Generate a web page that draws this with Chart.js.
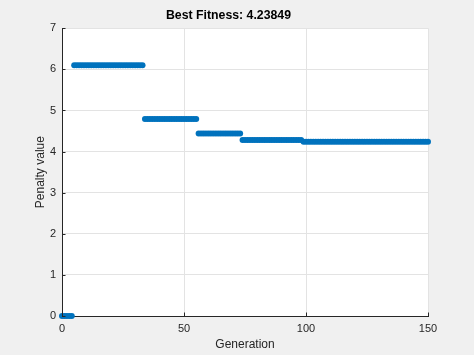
<!DOCTYPE html>
<html>
<head>
<meta charset="utf-8">
<script src="https://cdn.jsdelivr.net/npm/chart.js@4"></script>
<style>
html,body{margin:0;padding:0;background:#f0f0f0;}
#wrap{width:474px;height:355px;}
</style>
</head>
<body>
<div id="wrap"><canvas id="c" width="474" height="355"></canvas></div>
<script>
const chartTitle = "Best Fitness: 4.23849";
const xLabel = "Generation";
const yLabel = "Penalty value";
const xTicks = [0, 50, 100, 150];
const yTicks = [0, 1, 2, 3, 4, 5, 6, 7];
// best penalty per generation, generations 0..150
const penalty = [
  0, 0, 0, 0, 0,
  6.10, 6.10, 6.10, 6.10, 6.10, 6.10, 6.10, 6.10, 6.10, 6.10,
  6.10, 6.10, 6.10, 6.10, 6.10, 6.10, 6.10, 6.10, 6.10, 6.10,
  6.10, 6.10, 6.10, 6.10, 6.10, 6.10, 6.10, 6.10, 6.10,
  4.79, 4.79, 4.79, 4.79, 4.79, 4.79, 4.79, 4.79, 4.79, 4.79, 4.79,
  4.79, 4.79, 4.79, 4.79, 4.79, 4.79, 4.79, 4.79, 4.79, 4.79, 4.79,
  4.44, 4.44, 4.44, 4.44, 4.44, 4.44, 4.44, 4.44, 4.44,
  4.44, 4.44, 4.44, 4.44, 4.44, 4.44, 4.44, 4.44, 4.44,
  4.28, 4.28, 4.28, 4.28, 4.28, 4.28, 4.28, 4.28, 4.28, 4.28, 4.28, 4.28, 4.28,
  4.28, 4.28, 4.28, 4.28, 4.28, 4.28, 4.28, 4.28, 4.28, 4.28, 4.28, 4.28,
  4.23849, 4.23849, 4.23849, 4.23849, 4.23849, 4.23849, 4.23849, 4.23849, 4.23849, 4.23849,
  4.23849, 4.23849, 4.23849, 4.23849, 4.23849, 4.23849, 4.23849, 4.23849, 4.23849, 4.23849,
  4.23849, 4.23849, 4.23849, 4.23849, 4.23849, 4.23849, 4.23849, 4.23849, 4.23849, 4.23849,
  4.23849, 4.23849, 4.23849, 4.23849, 4.23849, 4.23849, 4.23849, 4.23849, 4.23849, 4.23849,
  4.23849, 4.23849, 4.23849, 4.23849, 4.23849, 4.23849, 4.23849, 4.23849, 4.23849, 4.23849,
  4.23849, 4.23849
];
const generations = penalty.map((_, i) => i);

const FONT = "'Liberation Sans', Arial, Helvetica, sans-serif";
const AXIS = '#262626';

const bgPlugin = {
  id: 'bg',
  beforeDraw(chart) {
    const {ctx, chartArea: a} = chart;
    ctx.save();
    ctx.fillStyle = '#f0f0f0';
    ctx.fillRect(0, 0, chart.width, chart.height);
    ctx.fillStyle = '#ffffff';
    ctx.fillRect(a.left, a.top, a.right - a.left, a.bottom - a.top);
    ctx.restore();
  },
  afterDatasetsDraw(chart) {
    const {ctx, chartArea: a, scales} = chart;
    ctx.save();
    ctx.strokeStyle = AXIS;
    ctx.lineWidth = 1;
    ctx.beginPath();
    xTicks.forEach(v => {
      const x = Math.round(scales.x.getPixelForValue(v)) + 0.5;
      ctx.moveTo(x, a.bottom); ctx.lineTo(x, a.bottom - 3.5);
    });
    yTicks.forEach(v => {
      const y = Math.round(scales.y.getPixelForValue(v)) + 0.5;
      ctx.moveTo(a.left, y); ctx.lineTo(a.left + 3.5, y);
    });
    ctx.stroke();
    ctx.restore();
  }
};

new Chart(document.getElementById('c'), {
  type: 'scatter',
  data: {
    datasets: [{
      data: generations.map((g, i) => ({x: g, y: penalty[i]})),
      backgroundColor: '#0072BD',
      borderColor: '#0072BD',
      borderWidth: 0,
      pointRadius: 3,
      pointHoverRadius: 3,
      showLine: false,
      clip: false
    }]
  },
  options: {
    responsive: false,
    animation: false,
    events: [],
    layout: {padding: {left: 29, right: 46, top: 0, bottom: 0}},
    plugins: {
      legend: {display: false},
      tooltip: {enabled: false},
      title: {
        display: true,
        text: chartTitle,
        color: '#000000',
        font: {family: FONT, size: 12.3, weight: 'bold'},
        padding: {top: 8.5, bottom: 5}
      }
    },
    scales: {
      x: {
        type: 'linear',
        min: 0, max: 150,
        afterBuildTicks(s) { s.ticks = xTicks.map(v => ({value: v})); },
        afterFit(s) { s.height = 39; },
        ticks: {color: AXIS, font: {family: FONT, size: 11}, padding: 6, maxRotation: 0},
        grid: {color: '#e3e3e3', drawTicks: false, lineWidth: 1},
        border: {color: AXIS, width: 1},
        title: {display: true, text: xLabel, color: AXIS, font: {family: FONT, size: 12}, padding: {top: 4, bottom: 3.5}}
      },
      y: {
        type: 'linear',
        min: 0, max: 7,
        afterBuildTicks(s) { s.ticks = yTicks.map(v => ({value: v})); },
        afterFit(s) { s.width = 33; },
        ticks: {color: AXIS, font: {family: FONT, size: 11}, padding: 6},
        grid: {color: '#e3e3e3', drawTicks: false, lineWidth: 1},
        border: {color: AXIS, width: 1},
        title: {display: true, text: yLabel, color: AXIS, font: {family: FONT, size: 12}, padding: {top: 4, bottom: 4}}
      }
    }
  },
  plugins: [bgPlugin]
});
</script>
</body>
</html>
